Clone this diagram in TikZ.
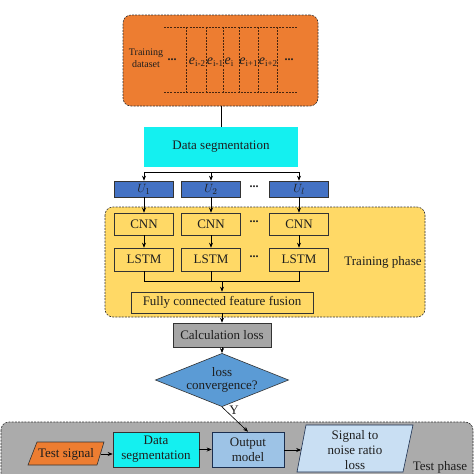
\documentclass[tikz,border=0pt]{standalone}
\usepackage{fontspec}
\setmainfont{Liberation Serif}
\usetikzlibrary{arrows.meta,shapes.geometric}
\definecolor{orangeA}{HTML}{ED7D31}
\definecolor{cyanA}{HTML}{14F0F0}
\definecolor{ublue}{HTML}{4472C4}
\definecolor{yellowA}{HTML}{FFD966}
\definecolor{grayA}{HTML}{A6A6A6}
\definecolor{grayB}{HTML}{ABABAB}
\definecolor{diamC}{HTML}{5B9BD5}
\definecolor{outm}{HTML}{9DC3E6}
\definecolor{snrC}{HTML}{C9DFF3}
\definecolor{edgeC}{HTML}{333333}
\definecolor{txt}{HTML}{1E1E1E}
\newcommand{\elab}[1]{{\itshape e}\raisebox{-2.5pt}{\fontsize{9}{9}\selectfont #1}}
\begin{document}
\begin{tikzpicture}[x=1pt,y=-1pt,
  font=\fontsize{13}{14}\selectfont, text=txt,
  box/.style={draw=edgeC, line width=0.6pt, inner sep=0pt, align=center},
  region/.style={draw=edgeC, dashed, dash pattern=on 2pt off 1.2pt, line width=0.6pt, rounded corners=8pt},
  grid/.style={draw=black!70!orangeA, dash pattern=on 2pt off 1.2pt, line width=0.6pt},
  conn/.style={draw=black, line width=0.6pt},
  arr/.style={conn, -{Stealth[length=5pt,width=4pt]}},
  dotsl/.style={font=\bfseries\fontsize{12}{12}\selectfont},
  elabel/.style={inner sep=0pt, font=\fontsize{14}{14}\selectfont}
]
\useasboundingbox (0,0) rectangle (474,474);
\fill[white] (0,0) rectangle (474,474);

% ---------- training dataset ----------
\node[region, fill=orangeA, minimum width=195pt, minimum height=91pt] (ds) at (220.5,60.5) {};
\draw[grid] (164,27) -- (297,27);
\draw[grid] (164,92) -- (297,92);
\foreach \xx in {186,206,223,239,258,277}{\draw[grid] (\xx,27) -- (\xx,92);}
\node[font=\fontsize{10}{12}\selectfont, align=center] (tdl) at (146,58) {Training\\dataset};
\node[dotsl] (d1) at (172,60) {...};
\node[dotsl] (d2) at (289,60) {...};
\node[elabel] (e1) at (197,62) {\elab{i-2}};
\node[elabel] (e2) at (215,62) {\elab{i-1}};
\node[elabel] (e3) at (229,62) {\elab{i}};
\node[elabel] (e4) at (248.5,62) {\elab{i+1}};
\node[elabel] (e5) at (268,62) {\elab{i+2}};

% ---------- data segmentation ----------
\node[box, draw=none, fill=cyanA, minimum width=154pt, minimum height=40pt] (seg) at (221,147) {Data segmentation};
\draw[conn] (ds.south -| seg) -- (seg.north);

\coordinate (jt) at (221,172);
\node[box, fill=ublue, minimum width=59pt, minimum height=16pt] (u1) at (144,189) {$U_1$};
\node[box, fill=ublue, minimum width=59pt, minimum height=16pt] (u2) at (211,189) {$U_2$};
\node[box, fill=ublue, minimum width=59pt, minimum height=16pt] (ul) at (299,189) {$U_l$};
\node[dotsl] (du) at (254,187) {...};
\draw[conn] ([yshift=-5pt]seg.south) -- (jt);
\draw[conn] (jt -| u1) -- (jt -| ul);
\draw[arr] (jt -| u1) -- (u1.north);
\draw[arr] (jt -| u2) -- (u2.north);
\draw[arr] (jt -| ul) -- (ul.north);

% ---------- training phase ----------
\path[region, fill=yellowA] (105,207) rectangle (425,317);
\node[box, fill=yellowA, minimum width=59pt, minimum height=22pt] (c1) at (144,224) {CNN};
\node[box, fill=yellowA, minimum width=59pt, minimum height=22pt] (c2) at (211,224) {CNN};
\node[box, fill=yellowA, minimum width=59pt, minimum height=22pt] (c3) at (299,224) {CNN};
\node[box, fill=yellowA, minimum width=59pt, minimum height=23pt] (l1) at (144,259.5) {LSTM};
\node[box, fill=yellowA, minimum width=59pt, minimum height=23pt] (l2) at (211,259.5) {LSTM};
\node[box, fill=yellowA, minimum width=59pt, minimum height=23pt] (l3) at (299,259.5) {LSTM};
\node[dotsl] (dc) at (254,222) {...};
\node[dotsl] (dl) at (254,257) {...};
\node (tp) at (383,262) {Training phase};
\draw[arr] (u1.south) -- (c1.north);
\draw[arr] (u2.south) -- (c2.north);
\draw[arr] (ul.south) -- (c3.north);
\draw[arr] (c1.south) -- (l1.north);
\draw[arr] (c2.south) -- (l2.north);
\draw[arr] (c3.south) -- (l3.north);
\node[box, fill=yellowA, minimum width=182pt, minimum height=21pt] (fc) at (222,302.5) {Fully connected feature fusion};
\coordinate (jb) at (222,281);
\draw[conn] (l1.south) -- (l1.south |- jb) -- (l3.south |- jb) -- (l3.south);
\draw[conn] (l2.south) -- (l2.south |- jb);
\draw[arr] (jb) -- (fc.north);

% ---------- loss ----------
\node[box, fill=grayA, minimum width=98pt, minimum height=24pt] (calc) at (222,335) {Calculation loss};
\draw[arr] (fc.south) -- (calc.north);
\node[box, diamond, fill=diamC, minimum width=116pt, minimum height=46pt, aspect=2.5, font=\fontsize{13}{13}\selectfont] (conv) at (222,380) {loss\\convergence?};
\draw[arr] (calc.south) -- (conv.north);

% ---------- test phase ----------
\path[region, fill=grayB] (1,422) rectangle (473,500);
\node (tph) at (440,467) {Test phase};

\path[box, fill=orangeA] (37,442) -- (104,442) -- (97,465) -- (28,465) -- cycle;
\node (ts) at (66,454) {Test signal};
\coordinate (tsr) at (101,454);

\node[box, fill=cyanA, minimum width=86pt, minimum height=35pt, font=\fontsize{13}{15}\selectfont] (seg2) at (156,449.5) {Data\\segmentation};
\node[box, fill=outm, draw=black!60!ublue, minimum width=72pt, minimum height=35pt, font=\fontsize{13}{15}\selectfont] (om) at (248,449.5) {Output\\model};

\path[box, fill=snrC, draw=black!60!ublue] (306,425) -- (413,425) -- (403,472) -- (297,472) -- cycle;
\node[align=center, font=\fontsize{13}{15}\selectfont, anchor=north, inner sep=0pt] (snr) at (355,430) {Signal to\\noise ratio\\loss};
\coordinate (snrl) at (301.2,450);

\draw[arr] (tsr) -- (seg2.west |- tsr);
\draw[arr] (seg2.east |- om.center) -- (om.west);
\draw[arr] (om.east |- snrl) -- (snrl);
\draw[arr] (conv.south) -- (om.north);
\node (yl) at (234,410) {Y};
\end{tikzpicture}
\end{document}
